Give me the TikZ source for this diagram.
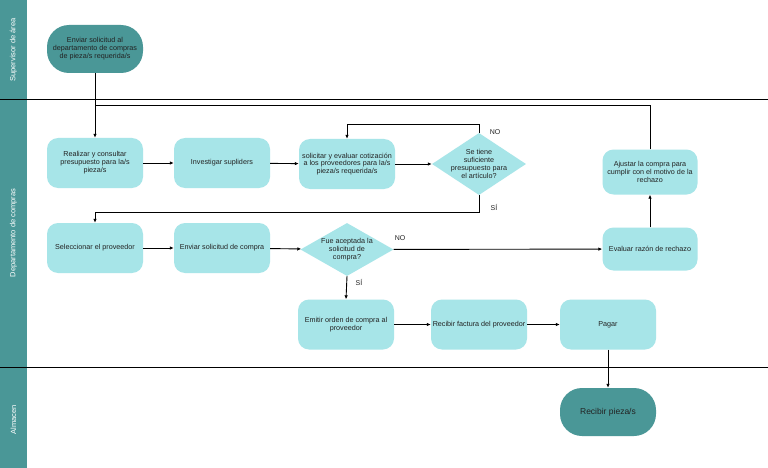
\documentclass[tikz,border=0pt]{standalone}
\usepackage{fontspec}
\setmainfont{Liberation Sans}
\usetikzlibrary{shapes.geometric,arrows.meta}
\definecolor{teal1}{HTML}{4A9797}
\definecolor{cyan1}{HTML}{A7E5E8}
\definecolor{txt}{HTML}{222222}
\begin{document}
\begin{tikzpicture}[x=1pt,y=-1pt,
  every node/.style={font=\fontsize{7.2}{7.9}\selectfont, text=txt},
  proc/.style={draw=none, fill=cyan1, rounded corners=11pt, minimum width=96pt, minimum height=50pt, align=center, inner sep=1pt},
  term/.style={draw=none, fill=teal1, rounded corners=22pt, minimum width=96pt, minimum height=48pt, align=center, inner sep=1pt},
  dec/.style={draw=none, fill=cyan1, diamond, aspect=1.5, inner sep=-3.5pt, align=center},
  lane/.style={font=\fontsize{7.5}{9}\selectfont, text=white, rotate=90},
  lbl/.style={font=\fontsize{7}{8}\selectfont, text=txt},
  arr/.style={draw=black, line width=0.9pt, -{Latex[length=4pt,width=3.5pt]}},
  ln/.style={draw=black, line width=0.9pt}
]
\useasboundingbox (0,0) rectangle (768,468);
\fill[white] (0,0) rectangle (768,468);
\fill[teal1] (0,0) rectangle (27,468);
\draw[black, line width=0.9pt] (0,99) -- (768,99);
\draw[black, line width=0.9pt] (0,367) -- (768,367);
\node[lane] (lane1) at (13.5,50) {Supervisor de área};
\node[lane] (lane2) at (13.5,233) {Departamento de compras};
\node[lane] (lane3) at (13.5,420) {Almacen};

\node[term] (n1) at (95,49) {Enviar solicitud al\\departamento de compras\\de pieza/s requerida/s};
\node[proc] (n2) at (95,163) {Realizar y consultar\\presupuesto para la/s\\pieza/s};
\node[proc] (n3) at (222,163) {Investigar supliders};
\node[proc] (n4) at (347,164) {solicitar y evaluar cotización\\a los proveedores para la/s\\pieza/s requerida/s};
\node[dec, minimum width=94pt, minimum height=62pt] (d1) at (479,164) {Se tiene\\suficiente\\presupuesto para\\el artículo?};
\node[proc] (n6) at (95,248) {Seleccionar el proveedor};
\node[proc] (n7) at (222,248) {Enviar solicitud de compra};
\node[dec, minimum width=93pt, minimum height=53pt] (d2) at (347,249.5) {Fue aceptada la\\solicitud de\\compra?};
\node[proc, minimum height=43pt, minimum width=95pt] (n9) at (650,249) {Evaluar razón de rechazo};
\node[proc, minimum height=45pt, minimum width=95pt] (n10) at (650,172) {Ajustar la compra para\\cumplir con el motivo de la\\rechazo};
\node[proc] (n11) at (346,324.5) {Emitir orden de compra al\\proveedor};
\node[proc] (n12) at (479,324.5) {Recibir factura del proveedor};
\node[proc] (n13) at (608,324.5) {Pagar};
\node[term, font=\fontsize{8.5}{10}\selectfont] (n14) at (608,412) {Recibir pieza/s};

\coordinate (j1) at (95,105);
\draw[arr] (n1.south) -- (n2.north);
\draw[ln] (n10.north) |- (j1);
\draw[arr] (n2) -- (n3);
\draw[arr] (n3) -- (n4);
\draw[arr] (n4) -- (d1);
\draw[arr] (d1.north) -- ++(0,-8) -| (n4.north);
\node[lbl] (no1) at (495,132) {NO};
\draw[arr] (d1.south) -- ++(0,17) -| (n6.north);
\node[lbl] (si1) at (494,207) {SÍ};
\draw[arr] (n6) -- (n7);
\draw[arr] (n7) -- (d2);
\draw[arr] (d2) -- (n9);
\node[lbl] (no2) at (400,238) {NO};
\draw[arr] (d2.south) -- (n11.north);
\node[lbl] (si2) at (359,282) {SÍ};
\draw[arr] (n9) -- (n10);
\draw[arr] (n11) -- (n12);
\draw[arr] (n12) -- (n13);
\draw[arr] (n13) -- (n14);
\end{tikzpicture}
\end{document}
